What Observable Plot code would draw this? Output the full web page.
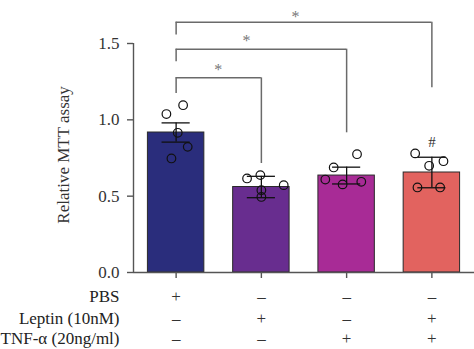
<!DOCTYPE html>
<html>
<head>
<meta charset="utf-8">
<script src="https://cdn.jsdelivr.net/npm/d3@7"></script>
<script src="https://cdn.jsdelivr.net/npm/@observablehq/plot@0.6"></script>
<style>
  html, body { margin: 0; padding: 0; background: #fff; }
</style>
</head>
<body>
<div id="chart"></div>
<script>
// ---- data ----
const groups = ["PBS", "Leptin", "TNF-α", "Leptin + TNF-α"];
const means = [0.917, 0.56, 0.635, 0.655];
const errs = [0.063, 0.07, 0.055, 0.10];
const barColors = ["#2a2d7c", "#682d8f", "#a82b96", "#e2635f"];

// replicate points (value) and their horizontal spread within each bar (category units)
const pointValues = [
  [1.038, 1.096, 0.915, 0.823, 0.747],
  [0.616, 0.638, 0.572, 0.539, 0.495],
  [0.775, 0.688, 0.609, 0.577, 0.594],
  [0.780, 0.729, 0.699, 0.557, 0.557]
];
const pointJitter = [
  [-0.114, 0.082, 0.019, 0.136, -0.055],
  [-0.168, -0.012, 0.262, 0.0, 0.0],
  [0.122, -0.152, -0.25, -0.047, 0.172],
  [-0.196, 0.136, -0.032, -0.169, 0.097]
];

const yTicks = [0, 0.5, 1.0, 1.5];
const yLabel = "Relative MTT assay";

// treatment table below the axis
const rowLabels = ["PBS", "Leptin (10nM)", "TNF-α (20ng/ml)"];
const rowSigns = [
  ["+", "–", "–", "–"],
  ["–", "+", "–", "+"],
  ["–", "–", "+", "+"]
];
const rowY = [-0.160, -0.301, -0.432];

// significance brackets
const bracketFrom = [0, 0, 0];
const bracketTo = [1, 2, 3];
const bracketTop = [1.275, 1.463, 1.640];
const bracketLeftEnd = [1.173, 1.380, 1.555];
const bracketRightEnd = [0.714, 0.915, 1.210];
const bracketStarX = [0.494, 0.826, 1.40];
const bracketStarY = [1.347, 1.535, 1.697];
const bracketText = ["*", "*", "*"];

const hashGroup = 3;
const hashY = 0.856;

// ---- derived tables ----
const bars = groups.map((g, i) => ({i, g, mean: means[i], err: errs[i], color: barColors[i]}));
const points = pointValues.flatMap((vals, i) => vals.map((v, k) => ({x: i + pointJitter[i][k], v})));
const table = rowLabels.flatMap((lab, r) => rowSigns[r].map((s, i) => ({i, s, y: rowY[r]})));
const rows = rowLabels.map((lab, r) => ({lab, y: rowY[r]}));
const brackets = bracketFrom.map((f, k) => ({
  from: f, to: bracketTo[k], top: bracketTop[k], le: bracketLeftEnd[k], re: bracketRightEnd[k],
  sx: bracketStarX[k], sy: bracketStarY[k], t: bracketText[k]
}));

const halfBar = 0.331;
const halfCap = 0.165;
const font = "'Liberation Serif', 'Times New Roman', serif";

const chart = Plot.plot({
  width: 474,
  height: 349,
  marginLeft: 133,
  marginRight: 0,
  marginTop: 43,
  marginBottom: 77,
  style: {fontFamily: font, fontSize: "17px", color: "#222", background: "#fff", overflow: "visible"},
  x: {type: "linear", domain: [-0.5, 3.5], axis: null},
  y: {domain: [0, 1.5], axis: null},
  marks: [
    // bars
    Plot.rectY(bars, {x1: d => d.i - halfBar, x2: d => d.i + halfBar, y1: 0, y2: "mean", fill: "color", stroke: "#2a2a2a", strokeWidth: 1}),
    // error bars
    Plot.ruleX(bars, {x: "i", y1: d => d.mean - d.err, y2: d => d.mean + d.err, stroke: "#111", strokeWidth: 1.3}),
    Plot.ruleY(bars, {y: d => d.mean + d.err, x1: d => d.i - halfCap, x2: d => d.i + halfCap, stroke: "#111", strokeWidth: 1.3}),
    Plot.ruleY(bars, {y: d => d.mean - d.err, x1: d => d.i - halfCap, x2: d => d.i + halfCap, stroke: "#111", strokeWidth: 1.3}),
    // replicate points
    Plot.dot(points, {x: "x", y: "v", r: 4.3, stroke: "#111", strokeWidth: 1.2, fill: "none"}),
    // axes
    Plot.ruleY([0], {x1: -0.5, x2: 3.5, stroke: "#555", strokeWidth: 1.4}),
    Plot.ruleX([-0.5], {y1: 0, y2: 1.5, stroke: "#555", strokeWidth: 1.4}),
    Plot.axisY({ticks: yTicks, tickFormat: d3.format(".1f"), tickSize: 6, tickPadding: 8, stroke: "#555", strokeWidth: 1.4, fill: "#333", fontSize: 17, fontFamily: font, label: null}),
    Plot.axisX({ticks: [0, 1, 2, 3], tickFormat: () => "", tickSize: 6, stroke: "#555", strokeWidth: 1.4, label: null}),
    // y label
    Plot.text([yLabel], {x: -0.5, y: 0.77, dx: -70, rotate: -90, text: d => d, fontSize: 17, fontFamily: font, fill: "#333", lineAnchor: "middle"}),
    // treatment table
    Plot.text(rows, {x: -0.5, y: "y", dx: -14, text: "lab", textAnchor: "end", lineAnchor: "middle", fontSize: 17, fontFamily: font, fill: "#222"}),
    Plot.text(table, {x: "i", y: "y", text: "s", lineAnchor: "middle", fontSize: 17, fontFamily: font, fill: "#333"}),
    // significance brackets
    Plot.ruleY(brackets, {y: "top", x1: "from", x2: "to", stroke: "#6a6a6a", strokeWidth: 1.5}),
    Plot.ruleX(brackets, {x: "from", y1: "le", y2: "top", stroke: "#6a6a6a", strokeWidth: 1.5}),
    Plot.ruleX(brackets, {x: "to", y1: "re", y2: "top", stroke: "#6a6a6a", strokeWidth: 1.5}),
    Plot.text(brackets, {x: "sx", y: "sy", text: "t", dy: 3, lineAnchor: "middle", fontSize: 16, fontFamily: font, fill: "#777"}),
    Plot.text(["#"], {x: hashGroup, y: hashY, text: d => d, lineAnchor: "middle", fontSize: 15, fontFamily: font, fill: "#333"})
  ]
});
document.getElementById("chart").appendChild(chart);
</script>
</body>
</html>
